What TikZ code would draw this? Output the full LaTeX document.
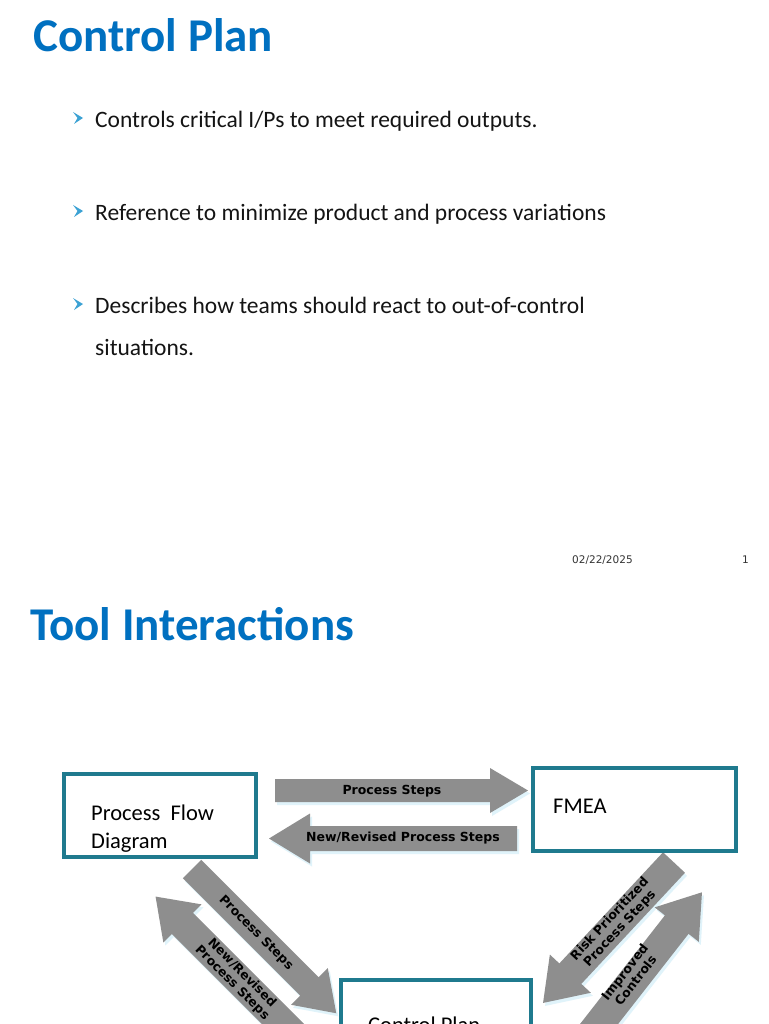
\documentclass[tikz,border=0pt]{standalone}
\usepackage{fontspec}
\setmainfont{Carlito}
\newfontfamily\dejavu{DejaVu Sans}
\definecolor{titleblue}{RGB}{0,112,192}
\definecolor{boxteal}{RGB}{31,122,142}
\definecolor{arrgray}{RGB}{142,142,142}
\definecolor{arrshadow}{RGB}{224,243,250}
\definecolor{bulletblue}{RGB}{60,162,212}
\definecolor{bodyblack}{RGB}{20,20,20}
% block arrow: #1,#2 tail centre; #3 canvas angle; #4 length; #5 shaft width; #6 head width; #7 head length
\newcommand\blockarr[7]{%
  \begin{scope}[shift={(#1+2,#2+3)},rotate=#3]
    \fill[arrshadow] (0,{-#5/2}) -- ({#4-#7},{-#5/2}) -- ({#4-#7},{-#6/2}) -- (#4,0)
      -- ({#4-#7},{#6/2}) -- ({#4-#7},{#5/2}) -- (0,{#5/2}) -- cycle;
  \end{scope}
  \begin{scope}[shift={(#1,#2)},rotate=#3]
    \fill[arrgray] (0,{-#5/2}) -- ({#4-#7},{-#5/2}) -- ({#4-#7},{-#6/2}) -- (#4,0)
      -- ({#4-#7},{#6/2}) -- ({#4-#7},{#5/2}) -- (0,{#5/2}) -- cycle;
  \end{scope}}
\newcommand\bulletmark[1]{%
  \fill[bulletblue] (73,#1-6) -- (83,#1) -- (74,#1+6) -- (77.5,#1) -- cycle;}
\begin{document}
\begin{tikzpicture}[x=1pt,y=-1pt,
  title/.style={anchor=base west,inner sep=0pt,text=titleblue,font=\fontsize{47}{52}\selectfont\bfseries},
  body/.style={anchor=base west,inner sep=0pt,text=bodyblack,font=\fontsize{23.5}{28}\selectfont},
  foot/.style={anchor=base west,inner sep=0pt,text=black!80,font=\dejavu\fontsize{10.5}{12}\selectfont},
  box/.style={draw=boxteal,line width=4pt,fill=white,rectangle,inner sep=0pt},
  boxtext/.style={anchor=base west,inner sep=0pt,text=black,font=\fontsize{22.5}{27}\selectfont},
  lbl/.style={inner sep=0pt,text=black,align=center,font=\dejavu\bfseries\fontsize{12.5}{13.8}\selectfont}]
\useasboundingbox (0,0) rectangle (768,1024);
\clip (0,0) rectangle (768,1024);
\fill[white] (0,0) rectangle (768,1024);

% ---------- slide 1 ----------
\node[title] (t1) at (33,52) {Control Plan};
\bulletmark{118}
\node[body] (b1) at (95,128) {Controls critical I/Ps to meet required outputs.};
\bulletmark{211}
\node[body] (b2) at (95,221) {Reference to minimize product and process variations};
\bulletmark{304}
\node[body] (b3) at (95,313) {Describes how teams should react to out-of-control};
\node[body] (b4) at (95,355) {situations.};
\node[foot] (date) at (572,563) {02/22/2025};
\node[foot] (page) at (742,563) {1};

% ---------- slide 2 ----------
\node[title] (t2) at (30,640) {Tool Interactions};

% arrows
\blockarr{275}{790.5}{0}{253}{23}{45}{38}
\blockarr{517}{838.5}{180}{248}{25}{50}{41}
\blockarr{192}{869}{-45}{204}{26}{52}{38}
\blockarr{297}{1038}{135}{200}{30}{54}{38}
\blockarr{674}{862.5}{-133}{192}{30}{56}{40}
\blockarr{585}{1042}{52}{190}{30}{56}{41}

\node[lbl] (l1) at (392,791) {Process Steps};
\node[lbl] (l2) at (403,838.5) {New/Revised Process Steps};
\node[lbl,rotate=-45] (l3) at (256,933) {Process Steps};
\node[lbl,rotate=-45] (l4) at (237,978) {New/Revised\\Process Steps};
\node[lbl,rotate=47] (l5) at (615,924) {Risk Prioritized\\Process Steps};
\node[lbl,rotate=52] (l6) at (630,976) {Improved\\Controls};

% boxes
\node[box,minimum width=192,minimum height=83] (pfd) at (160,815.5) {};
\node[boxtext] (pfdt1) at (91,820) {Process\ \ Flow};
\node[boxtext] (pfdt2) at (91,848) {Diagram};
\node[box,minimum width=203,minimum height=83] (fmea) at (634.5,809.5) {};
\node[boxtext] (fmeat) at (553,813) {FMEA};
\node[box,minimum width=190,minimum height=120] (cp) at (436,1040) {};
\node[boxtext] (cpt) at (368,1032) {Control Plan};
\end{tikzpicture}
\end{document}
